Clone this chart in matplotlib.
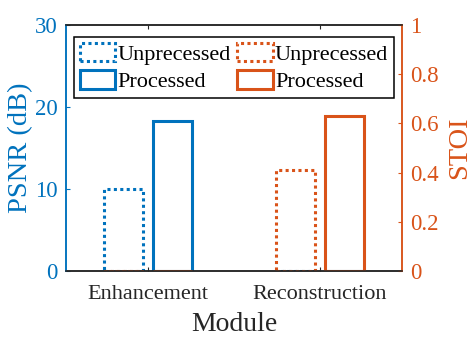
import matplotlib
matplotlib.use("Agg")
import matplotlib.pyplot as plt
import numpy as np

# Data
modules = ["Enhancement", "Reconstruction"]
psnr_unprocessed = [10.0, 0.0]
psnr_processed = [18.3, 0.0]
stoi_unprocessed = [0.0, 0.41]
stoi_processed = [0.0, 0.63]
psnr_ticks = [0, 10, 20, 30]
stoi_ticks = [0, 0.2, 0.4, 0.6, 0.8, 1.0]
stoi_ticklabels = ["0", "0.2", "0.4", "0.6", "0.8", "1"]
legend_labels = ["Unprecessed", "Processed", "Unprecessed", "Processed"]

blue = "#0072BD"
orange = "#D95319"
dark = "#262626"

plt.rcParams["font.family"] = ["Liberation Serif", "DejaVu Serif"]

fig = plt.figure(figsize=(4.74, 3.38), dpi=100)
ax = fig.add_axes([0.139, 0.198, 0.709, 0.728])
ax2 = ax.twinx()

x = np.arange(1, len(modules) + 1)
offset = 0.1428
width = 0.2286
lw = 2.2
dotted = (0, (1.0, 1.1))

b1 = ax.bar(x - offset, psnr_unprocessed, width, facecolor="none", edgecolor=blue,
            linewidth=lw, linestyle=dotted, capstyle="butt", joinstyle="miter")
b2 = ax.bar(x + offset, psnr_processed, width, facecolor="none", edgecolor=blue,
            linewidth=lw, joinstyle="miter")
b3 = ax2.bar(x - offset, stoi_unprocessed, width, facecolor="none", edgecolor=orange,
             linewidth=lw, linestyle=dotted, capstyle="butt", joinstyle="miter")
b4 = ax2.bar(x + offset, stoi_processed, width, facecolor="none", edgecolor=orange,
             linewidth=lw, joinstyle="miter")

ax.set_xlim(0.52, 2.48)
ax.set_ylim(0, 30)
ax2.set_ylim(0, 1)

ax.set_xticks(x)
ax.set_xticklabels(modules, fontsize=16, color=dark)
ax.set_yticks(psnr_ticks)
ax.set_yticklabels([str(t) for t in psnr_ticks], fontsize=16.5, color=blue)
ax2.set_yticks(stoi_ticks)
ax2.set_yticklabels(stoi_ticklabels, fontsize=16.5, color=orange)

ax.tick_params(axis="x", direction="in", top=True, length=3, width=0.8,
               color=dark, pad=10)
ax.tick_params(axis="y", direction="in", length=3, width=0.8, color=blue, pad=6)
ax2.tick_params(axis="y", direction="in", length=3, width=0.8, color=orange, pad=6)

for a in (ax, ax2):
    for s in a.spines.values():
        s.set_linewidth(1.1)
        s.set_color(dark)
ax2.spines["left"].set_color(blue)
ax2.spines["right"].set_color(orange)
ax.spines["left"].set_color(blue)
ax.spines["right"].set_color(orange)

ax.set_ylabel("PSNR (dB)", fontsize=20.5, color=blue, labelpad=1)
ax2.set_ylabel("STOI", fontsize=20.5, color=orange, labelpad=6)
ax.set_xlabel("Module", fontsize=20, color=dark, labelpad=6)

leg = ax2.legend([b1, b2, b3, b4], legend_labels, ncol=2, loc="upper left",
                 bbox_to_anchor=(0.024, 0.951), borderaxespad=0, fontsize=16,
                 handlelength=1.6, handleheight=0.9, handletextpad=0.1,
                 columnspacing=0.3, labelspacing=0.25, borderpad=0.25,
                 fancybox=False, framealpha=1, edgecolor="black")
leg.get_frame().set_linewidth(1.1)

fig.savefig("out.png", dpi=100)
